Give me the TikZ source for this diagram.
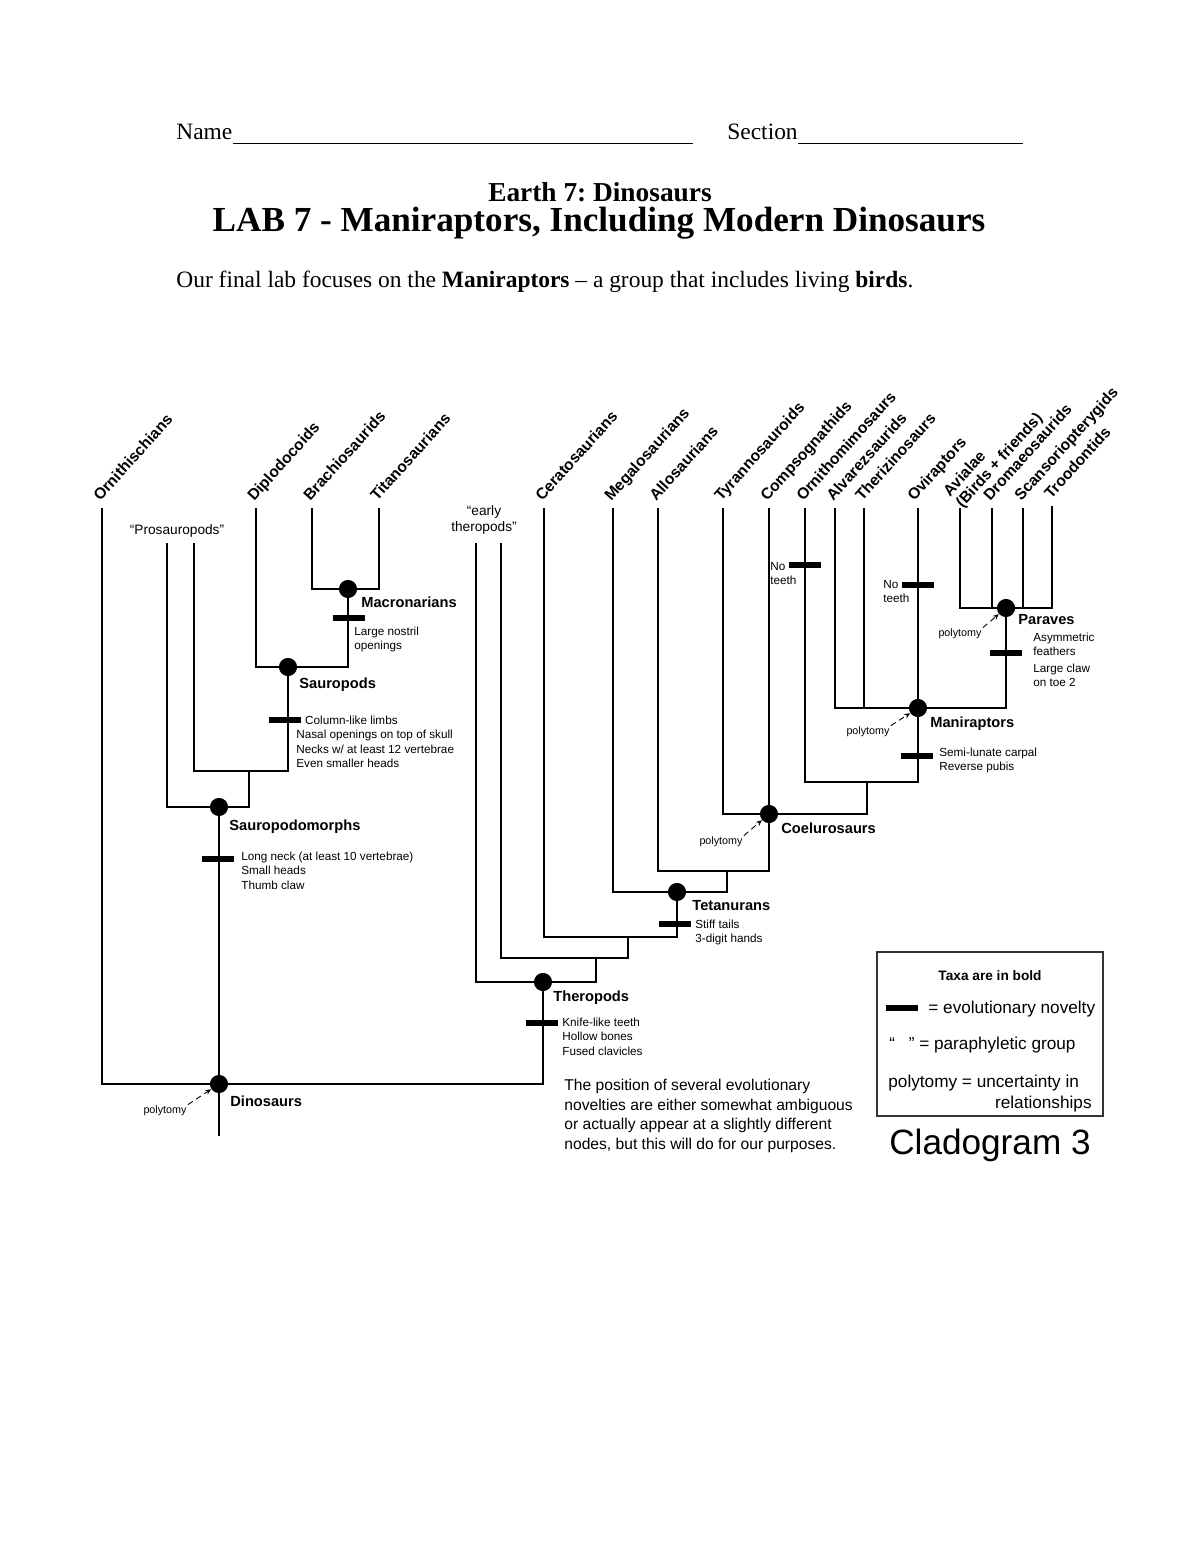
\documentclass[tikz,border=0pt]{standalone}
\usepackage{fontspec}
\setmainfont{Liberation Serif}
\setsansfont{Liberation Sans}
\usetikzlibrary{arrows.meta,positioning}
\frenchspacing

\begin{document}
\begin{tikzpicture}[x=0.51191pt,y=-0.51191pt,>=Latex,
  branch/.style={line width=1.5pt},
  taxon/.style={font=\sffamily\bfseries\fontsize{8}{8.6}\selectfont,rotate=48,anchor=base west,inner sep=0pt},
  clade/.style={font=\sffamily\bfseries\fontsize{7.5}{9}\selectfont,anchor=base west,inner sep=0pt},
  trait/.style={font=\sffamily\fontsize{6}{7.2}\selectfont,align=left,anchor=north west,inner sep=0pt},
  paragroup/.style={font=\sffamily\fontsize{7}{8.4}\selectfont,align=center,inner sep=0pt},
  dot/.style={circle,fill=black,inner sep=0pt,minimum size=9.3pt},
  novelty/.style={fill=black,inner sep=0pt,minimum width=16pt,minimum height=2.8pt},
  poly/.style={font=\sffamily\fontsize{5.5}{6}\selectfont,inner sep=0.5pt},
  polyarrow/.style={densely dashed,line width=0.45pt,-{Stealth[length=3pt,width=2.6pt]}},
]
\useasboundingbox (0,0) rectangle (1200,1553);

% page header
\node[anchor=base west,inner sep=0pt,font=\fontsize{12}{14}\selectfont] (nameLbl) at (176,139) {Name};
\draw[line width=0.5pt] (nameLbl.base east) ++(0,4) -- ++(460,0);
\node[anchor=base west,inner sep=0pt,font=\fontsize{12}{14}\selectfont] (sectionLbl) at (727,139) {Section};
\draw[line width=0.5pt] (sectionLbl.base east) ++(0,4) -- ++(225,0);
\node[font=\bfseries\fontsize{14}{16}\selectfont] (course) at (600,192) {Earth 7: Dinosaurs};
\node[font=\bfseries\fontsize{18}{20}\selectfont] (labTitle) at (599,223) {LAB 7 - Maniraptors, Including Modern Dinosaurs};
\node[anchor=base west,inner sep=0pt,font=\fontsize{12}{14}\selectfont] (intro) at (176,287)
  {Our final lab focuses on the \textbf{Maniraptors} – a group that includes living \textbf{birds}.};

% tips
\coordinate (orni) at (102,508);
\node[taxon] (lOrni) at (100,502) {Ornithischians};
\coordinate (pros1) at (167,543);
\coordinate (pros2) at (194,543);
\node[paragroup] (lPros) at (177,531) {“Prosauropods”};
\coordinate (diplo) at (256,508);
\node[taxon] (lDiplo) at (254,502) {Diplodocoids};
\coordinate (brachio) at (312,508);
\node[taxon] (lBrachio) at (310,502) {Brachiosaurids};
\coordinate (titano) at (379,508);
\node[taxon] (lTitano) at (377,502) {Titanosaurians};
\coordinate (early1) at (476,543);
\coordinate (early2) at (501,543);
\node[paragroup] (lEarly) at (484,520) {“early\\theropods”};
\coordinate (cerato) at (544,508);
\node[taxon] (lCerato) at (542,502) {Ceratosaurians};
\coordinate (megalo) at (613,508);
\node[taxon] (lMegalo) at (611,502) {Megalosaurians};
\coordinate (allo) at (658,508);
\node[taxon] (lAllo) at (656,502) {Allosaurians};
\coordinate (tyranno) at (723,508);
\node[taxon] (lTyranno) at (721,502) {Tyrannosauroids};
\coordinate (compso) at (769,508);
\node[taxon] (lCompso) at (767,502) {Compsognathids};
\coordinate (ornitho) at (805,508);
\node[taxon] (lOrnitho) at (803,502) {Ornithomimosaurs};
\coordinate (alvarez) at (835,508);
\node[taxon] (lAlvarez) at (833,502) {Alvarezsaurids};
\coordinate (theriz) at (864,508);
\node[taxon] (lTheriz) at (862,502) {Therizinosaurs};
\coordinate (ovi) at (918,508);
\node[taxon] (lOvi) at (914,502) {Oviraptors};
\coordinate (avialae) at (960,508);
\node[taxon,align=left,anchor=south west] (lAvialae) at (965,511) {Avialae\\(Birds + friends)};
\coordinate (dromaeo) at (992,508);
\node[taxon] (lDromaeo) at (990,502) {Dromaeosaurids};
\coordinate (scanso) at (1023,508);
\node[taxon] (lScanso) at (1021,502) {Scansoriopterygids};
\coordinate (troodo) at (1052,506);
\node[taxon] (lTroodo) at (1051,500) {Troodontids};

% clades
\node[dot] (dino) at (219,1084) {};
\node[dot] (sauropodo) at (219,807) {};
\node[dot] (sauropods) at (288,667) {};
\node[dot] (macron) at (348,589) {};
\node[dot] (thero) at (543,982) {};
\node[dot] (tetan) at (677,892) {};
\node[dot] (coelu) at (769,814) {};
\node[dot] (manir) at (918,708) {};
\node[dot] (parav) at (1006,608) {};
\coordinate (root) at (219,1136);

% joins
\coordinate (jSpm) at (249,807);
\coordinate (jSpm2) at (249,771);
\coordinate (jSp) at (288,771);
\coordinate (jMac) at (348,667);
\coordinate (jT1) at (596,958);
\coordinate (jT2) at (628,958);
\coordinate (jT3) at (628,937);
\coordinate (jT4) at (677,937);
\coordinate (jT5) at (727,871);
\coordinate (jT6) at (769,871);
\coordinate (jC1) at (867,782);
\coordinate (jC2) at (918,782);

% branches
\draw[branch] (orni) |- (dino);
\draw[branch] (dino) -| (thero);
\draw[branch] (dino) -- (root);
\draw[branch] (dino) -- (sauropodo);
\draw[branch] (pros1) |- (jSpm) -- (jSpm2);
\draw[branch] (pros2) |- (jSp) -- (sauropods);
\draw[branch] (diplo) |- (jMac) -- (macron);
\draw[branch] (brachio) |- (macron) -| (titano);
\draw[branch] (early1) |- (thero);
\draw[branch] (thero) -| (jT1);
\draw[branch] (early2) |- (jT2) -- (jT3);
\draw[branch] (cerato) |- (jT4) -- (tetan);
\draw[branch] (megalo) |- (tetan) -| (jT5);
\draw[branch] (allo) |- (jT6) -- (coelu);
\draw[branch] (tyranno) |- (coelu) -| (jC1);
\draw[branch] (compso) -- (coelu);
\draw[branch] (ornitho) |- (jC2) -- (manir);
\draw[branch] (alvarez) |- (manir) -| (parav);
\draw[branch] (theriz) -- (theriz |- manir);
\draw[branch] (ovi) -- (manir);
\draw[branch] (avialae) |- (parav) -| (troodo);
\draw[branch] (dromaeo) -- (dromaeo |- parav);
\draw[branch] (scanso) -- (scanso |- parav);

% novelties
\node[novelty] (nMacron) at (349,618) {};
\node[novelty] (nSauropods) at (285,720) {};
\node[novelty] (nSauropodo) at (218,859) {};
\node[novelty] (nThero) at (542,1023) {};
\node[novelty] (nTetan) at (675,924) {};
\node[novelty] (nOrnitho) at (805,565) {};
\node[novelty] (nOvi) at (918,585) {};
\node[novelty] (nManir) at (917,756) {};
\node[novelty] (nParav) at (1006,653) {};

% clade names and traits
\node[clade] (tMacron) at (361,607) {Macronarians};
\node[trait] (fMacron) at (354,627) {Large nostril\\openings};
\node[clade] (tSauropods) at (299,688) {Sauropods};
\node[trait] (fSauropods) at (296,716) {\hspace*{4.5pt}Column-like limbs\\Nasal openings on top of skull\\Necks w/ at least 12 vertebrae\\Even smaller heads};
\node[clade] (tSauropodo) at (229,830) {Sauropodomorphs};
\node[trait] (fSauropodo) at (241,852) {Long neck (at least 10 vertebrae)\\Small heads\\Thumb claw};
\node[clade] (tDino) at (230,1106) {Dinosaurs};
\node[clade] (tThero) at (553,1001) {Theropods};
\node[trait] (fThero) at (562,1018) {Knife-like teeth\\Hollow bones\\Fused clavicles};
\node[clade] (tTetan) at (692,910) {Tetanurans};
\node[trait] (fTetan) at (695,920) {Stiff tails\\3-digit hands};
\node[clade] (tCoelu) at (781,833) {Coelurosaurs};
\node[trait] (fOrnitho) at (770,562) {No\\teeth};
\node[trait] (fOvi) at (883,580) {No\\teeth};
\node[clade] (tManir) at (930,727) {Maniraptors};
\node[trait] (fManir) at (939,748) {Semi-lunate carpal\\Reverse pubis};
\node[clade] (tParav) at (1018,624) {Paraves};
\node[trait] (fParav) at (1033,633) {Asymmetric\\feathers\\[1.2pt]Large claw\\on toe 2};

% polytomies
\node[poly] (pDino) at (165,1111) {polytomy};
\draw[polyarrow] (pDino.north east) -- (dino);
\node[poly] (pCoelu) at (721,842) {polytomy};
\draw[polyarrow] (pCoelu.north east) -- (coelu);
\node[poly] (pManir) at (868,732) {polytomy};
\draw[polyarrow] (pManir.north east) -- (manir);
\node[poly] (pParav) at (960,634) {polytomy};
\draw[polyarrow] (pParav.north east) -- (parav);

% note
\node[font=\sffamily\fontsize{8}{10}\selectfont,align=left,anchor=north west,inner sep=0pt] (remark) at (564,1079)
  {The position of several evolutionary\\novelties are either somewhat ambiguous\\or actually appear at a slightly different\\nodes, but this will do for our purposes.};

% legend
\draw[line width=0.6pt,black!80] (877,952) rectangle (1103,1116);
\node[font=\sffamily\bfseries\fontsize{7}{8}\selectfont] (kTitle) at (990,976) {Taxa are in bold};
\node[novelty] (kBar) at (902,1008) {};
\node[font=\sffamily\fontsize{8.8}{10}\selectfont,anchor=west,inner sep=0pt] (kNovelty) at (928,1009) {= evolutionary novelty};
\node[font=\sffamily\fontsize{8.8}{10}\selectfont,anchor=west,inner sep=0pt] (kPara) at (889,1045) {“\hspace{7pt}” = paraphyletic group};
\node[font=\sffamily\fontsize{8.8}{10}\selectfont,anchor=west,inner sep=0pt] (kPoly) at (888,1083) {polytomy = uncertainty in};
\node[font=\sffamily\fontsize{8.8}{10}\selectfont,anchor=east,inner sep=0pt] (kRel) at (1092,1104) {relationships};
\node[font=\sffamily\fontsize{18}{20}\selectfont] (cladoTitle) at (990,1145) {Cladogram 3};
\end{tikzpicture}
\end{document}
